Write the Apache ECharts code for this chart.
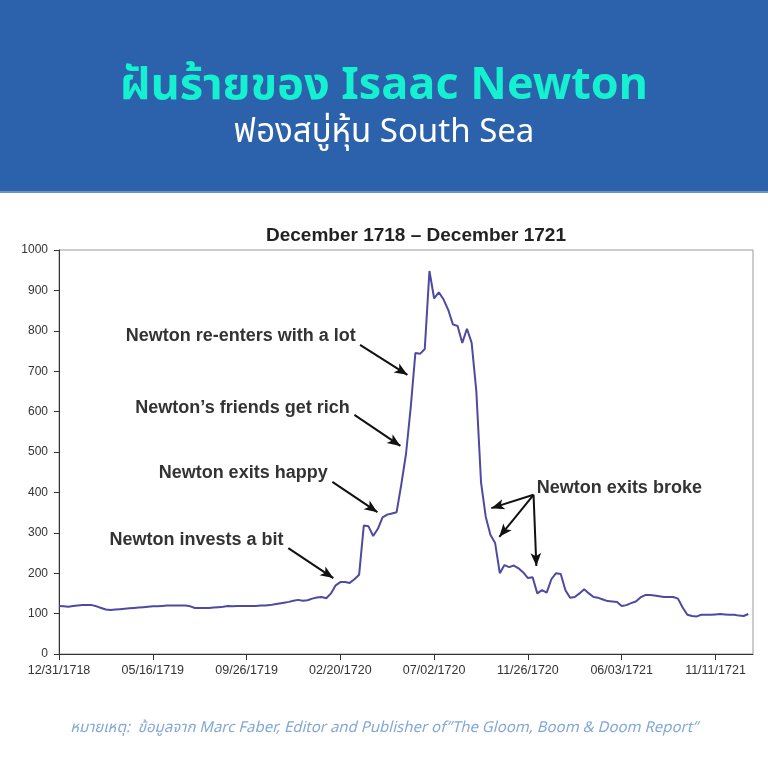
<!DOCTYPE html>
<html><head><meta charset="utf-8">
<script src="https://cdn.jsdelivr.net/npm/echarts@6/dist/echarts.min.js"></script>
<style>html,body{margin:0;padding:0;background:#fff}#c{width:768px;height:768px}</style>
</head><body><div id="c"></div>
<script>
const tickLabels = ['12/31/1718','05/16/1719','09/26/1719','02/20/1720','07/02/1720','11/26/1720','06/03/1721','11/11/1721'];
const pointsPerTick = 20;
const yTicks = [0,100,200,300,400,500,600,700,800,900,1000];
const prices = [
 119,118,117,119,120,121,121,121,118,114,
 110,109,110,111,112,113,114,115,116,117,
 118,118,119,120,120,120,120,120,118,114,
 114,114,114,115,116,117,119,118,119,119,
 119,119,119,120,120,121,123,125,127,129,
 132,134,132,133,137,140,141,138,150,170,
 178,178,176,185,196,318,316,292,310,338,
 345,348,351,420,495,610,745,743,755,948,
 880,895,878,852,816,812,770,805,770,650,
 425,340,295,275,200,220,215,219,212,202,
 188,190,150,158,152,185,200,198,158,139,
 141,150,160,150,141,139,135,131,130,129,
 119,121,126,130,140,146,146,145,143,141,
 141,141,137,115,97,94,93,97,97,97,
 98,99,98,97,97,95,94,99
];
const noteTexts = ['Newton invests a bit','Newton exits happy','Newton\u2019s friends get rich','Newton re-enters with a lot','Newton exits broke'];
const noteAnchors = [[48.0,282],[57.4,448],[62.1,609],[63.4,787],[101.8,411]];
const arrowTails = [[48.9,262],[58.3,426],[63.0,592],[64.2,765],[101.2,394],[101.2,394],[101.2,394]];
const arrowHeads = [[58.5,188],[67.9,351],[72.8,515],[74.3,691],[92.2,361],[93.9,290],[101.8,218]];

const chart = echarts.init(document.getElementById('c'), null, {renderer:'canvas'});
const font = 'Liberation Sans, Arial, sans-serif';
const thai = '"Noto Sans Thai", "Noto Sans", "DejaVu Sans", sans-serif';
chart.setOption({
  animation:false,
  backgroundColor:'#fff',
  graphic:[
    {type:'rect', left:0, top:0, shape:{width:768,height:192}, style:{fill:'#2c62ab'}, z:-10},
    {type:'rect', left:0, top:191, shape:{width:768,height:2}, style:{fill:'#6f92c4'}, z:-9}
  ],
  title:[
    {text:'ฝันร้ายของ Isaac Newton', left:'center', top:62, textStyle:{fontFamily:thai, fontSize:45, fontWeight:'bold', color:'#14f0d0'}},
    {text:'ฟองสบู่หุ้น South Sea', left:'center', top:114, textStyle:{fontFamily:thai, fontSize:33, fontWeight:'normal', color:'#ffffff'}},
    {text:'December 1718 \u2013 December 1721', left:411, textAlign:'center', top:221, textStyle:{fontFamily:font, fontSize:19, fontWeight:'bold', color:'#222'}},
    {text:'หมายเหตุ:  ข้อมูลจาก Marc Faber, Editor and Publisher of\u201dThe Gloom, Boom & Doom Report\u201d', left:'center', top:716, textStyle:{fontFamily:thai, fontSize:15, fontStyle:'italic', fontWeight:'normal', color:'#82a8d6'}}
  ],
  grid:{left:59, top:250, right:15, bottom:114, show:true, borderColor:'#999', borderWidth:1, backgroundColor:'transparent'},
  xAxis:{
    type:'value', min:0, max:148, interval:pointsPerTick,
    axisLine:{show:true, onZero:false, lineStyle:{color:'#333', width:1}},
    axisTick:{show:true, inside:false, length:6, lineStyle:{color:'#333'}},
    splitLine:{show:false},
    axisLabel:{fontFamily:font, fontSize:12.5, color:'#333', margin:10, showMaxLabel:false,
      formatter:function(v){ return (v % pointsPerTick === 0) ? (tickLabels[v/pointsPerTick] || '') : ''; }}
  },
  yAxis:{
    type:'value', min:yTicks[0], max:yTicks[yTicks.length-1], interval:100,
    axisLine:{show:true, lineStyle:{color:'#333', width:1}},
    axisTick:{show:true, inside:false, length:5, lineStyle:{color:'#333'}},
    splitLine:{show:false},
    axisLabel:{fontFamily:font, fontSize:12, color:'#333', margin:11, formatter:function(v){return String(v);}}
  },
  series:[{
    type:'line', data:prices.map((v,i)=>[i,v]), showSymbol:false, symbol:'none',
    lineStyle:{color:'#4d4aa0', width:2}, z:5,
    markLine:{
      silent:true, symbol:['none','arrow'], symbolSize:[8,13],
      label:{show:false},
      lineStyle:{color:'#111', width:2, type:'solid'},
      data: arrowTails.map((t,k)=>[{coord:t},{coord:arrowHeads[k]}])
    },
    markPoint:{
      silent:true, symbol:'circle', symbolSize:1, itemStyle:{color:'rgba(0,0,0,0)'},
      data: noteTexts.map((t,k)=>({coord:noteAnchors[k], value:t,
        label:{show:true, position:k===4?'right':'left', distance:0, formatter:t,
          fontFamily:font, fontSize:18, fontWeight:'bold', color:'#333'}}))
    }
  }]
});
</script></body></html>
